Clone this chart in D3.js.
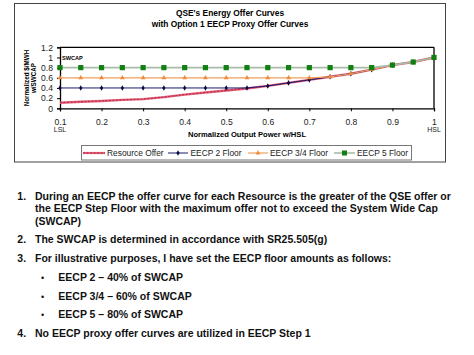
<!DOCTYPE html>
<html><head><meta charset="utf-8">
<script src="https://cdn.jsdelivr.net/npm/d3@7"></script>
<style>
html,body{margin:0;padding:0;background:#fff;}
svg{display:block;font-family:"Liberation Sans",Arial,sans-serif;}
</style></head>
<body>
<svg id="c" width="474" height="355"></svg>
<script>
const outputs = [0.1,0.15,0.2,0.25,0.3,0.35,0.4,0.45,0.5,0.55,0.6,0.65,0.7,0.75,0.8,0.85,0.9,0.95,1.0];
const resourceOffer = [0.11,0.13,0.145,0.165,0.18,0.22,0.27,0.31,0.35,0.39,0.44,0.50,0.56,0.62,0.68,0.76,0.85,0.91,1.0];
const eecp2 = [0.4,0.4,0.4,0.4,0.4,0.4,0.4,0.4,0.4,0.4,0.44,0.50,0.56,0.62,0.68,0.76,0.85,0.91,1.0];
const eecp34 = [0.6,0.6,0.6,0.6,0.6,0.6,0.6,0.6,0.6,0.6,0.6,0.6,0.6,0.62,0.68,0.76,0.85,0.91,1.0];
const eecp5 = [0.8,0.8,0.8,0.8,0.8,0.8,0.8,0.8,0.8,0.8,0.8,0.8,0.8,0.8,0.8,0.8,0.85,0.91,1.0];
const xTicks = [0.1,0.2,0.3,0.4,0.5,0.6,0.7,0.8,0.9,1];
const yTicks = [0,0.2,0.4,0.6,0.8,1,1.2];
const titleLines = ["QSE's Energy Offer Curves","with Option 1 EECP Proxy Offer Curves"];
const yTitleLines = ["Normalized $/MWH","w/SWCAP"];
const xTitle = "Normalized Output Power w/HSL";
const seriesNames = ["Resource Offer","EECP 2 Floor","EECP 3/4 Floor","EECP 5 Floor"];
const notes = [
  {num:"1.", lines:["During an EECP the offer curve for each Resource is the greater of the QSE offer or","the EECP Step Floor with the maximum offer not to exceed the System Wide Cap","(SWCAP)"]},
  {num:"2.", lines:["The SWCAP is determined in accordance with SR25.505(g)"]},
  {num:"3.", lines:["For illustrative purposes, I have set the EECP floor amounts as follows:"]},
  {bullet:true, lines:["EECP 2 – 40% of SWCAP"]},
  {bullet:true, lines:["EECP 3/4 – 60% of SWCAP"]},
  {bullet:true, lines:["EECP 5 – 80% of SWCAP"]},
  {num:"4.", lines:["No EECP proxy offer curves are utilized in EECP Step 1"]}
];

const svg = d3.select("#c");
// outer chart frame
svg.append("rect").attr("x",14.5).attr("y",3.5).attr("width",431).attr("height",158.5)
  .attr("fill","#fff").attr("stroke","#444").attr("stroke-width",1);

const x = d3.scaleLinear().domain([0.1,1]).range([60,434]);
const y = d3.scaleLinear().domain([0,1.2]).range([108.3,47.3]);

// title
titleLines.forEach((t,i)=>{
  svg.append("text").attr("x",230).attr("y",16+i*11).attr("text-anchor","middle")
    .attr("font-size",8.4).attr("font-weight","bold").text(t);
});

// axes
const gx = svg.append("g").attr("transform",`translate(0,${y(0)})`)
  .call(d3.axisBottom(x).tickValues(xTicks).tickSize(3).tickFormat(d=>d===1?"1":d3.format(".1f")(d)));
const gy = svg.append("g").attr("transform",`translate(${x(0.1)},0)`)
  .call(d3.axisLeft(y).tickValues(yTicks).tickSize(3).tickFormat(d=>d===0?"0":(d===1?"1":d3.format(".1f")(d))));
[gx,gy].forEach(g=>{
  g.select(".domain").attr("stroke","#000").attr("stroke-width",1.3);
  g.selectAll(".tick line").attr("stroke","#000");
  g.selectAll(".tick text").attr("font-size",8.6).attr("fill","#222")
    .attr("font-family","Liberation Sans, Arial, sans-serif");
});
gx.selectAll(".tick text").attr("dy","1.3em");
gy.selectAll(".tick text").attr("dx","-1px");
// plot box top and right
svg.append("line").attr("x1",x(0.1)).attr("x2",x(1)).attr("y1",y(1.2)).attr("y2",y(1.2)).attr("stroke","#000").attr("stroke-width",1.3);
svg.append("line").attr("x1",x(1)).attr("x2",x(1)).attr("y1",y(1.2)).attr("y2",y(0)).attr("stroke","#000").attr("stroke-width",1.3);

// LSL / HSL
svg.append("text").attr("x",x(0.1)).attr("y",132).attr("text-anchor","middle").attr("font-size",7).attr("fill","#222").text("LSL");
svg.append("text").attr("x",x(1)).attr("y",132).attr("text-anchor","middle").attr("font-size",7).attr("fill","#222").text("HSL");
// axis titles
svg.append("text").attr("x",247).attr("y",137).attr("text-anchor","middle").attr("font-size",7.6).attr("font-weight","bold").text(xTitle);
yTitleLines.forEach((t,i)=>{
  svg.append("text").attr("transform",`translate(${28.5+i*7},78) rotate(-90)`).attr("text-anchor","middle")
    .attr("font-size",6.3).attr("font-weight","bold").text(t);
});
// SWCAP label
svg.append("text").attr("x",x(0.1)+2).attr("y",y(1)+2.2).attr("font-size",5.6).attr("font-weight","bold").text("SWCAP");

const pts = arr => outputs.map((o,i)=>[o,arr[i]]);
const line = d3.line().x(d=>x(d[0])).y(d=>y(d[1]));

// Resource offer
svg.append("path").datum(pts(resourceOffer)).attr("d",line).attr("fill","none")
  .attr("stroke","#e0607a").attr("stroke-width",2.4);
svg.append("path").datum(pts(resourceOffer)).attr("d",line).attr("fill","none")
  .attr("stroke","#c02040").attr("stroke-width",1).attr("stroke-dasharray","2,1.5");

// EECP 2
svg.append("path").datum(pts(eecp2)).attr("d",line).attr("fill","none").attr("stroke","#1a1a6e").attr("stroke-width",1);
svg.append("g").selectAll("path").data(pts(eecp2)).join("path")
  .attr("transform",d=>`translate(${x(d[0])},${y(d[1])})`)
  .attr("d",d3.symbol(d3.symbolDiamond,9)).attr("fill","#0a0a40");

// EECP 3/4
svg.append("path").datum(pts(eecp34)).attr("d",line).attr("fill","none").attr("stroke","#f0a060").attr("stroke-width",1.2);
svg.append("g").selectAll("path").data(pts(eecp34)).join("path")
  .attr("transform",d=>`translate(${x(d[0])},${y(d[1])})`)
  .attr("d",d3.symbol(d3.symbolTriangle,10)).attr("fill","#f08a3a");

// EECP 5
svg.append("path").datum(pts(eecp5)).attr("d",line).attr("fill","none").attr("stroke","#a8bca8").attr("stroke-width",1.6);
svg.append("g").selectAll("rect").data(pts(eecp5)).join("rect")
  .attr("x",d=>x(d[0])-2.6).attr("y",d=>y(d[1])-2.6).attr("width",5.2).attr("height",5.2)
  .attr("fill","#108010");

// Legend
svg.append("rect").attr("x",81.5).attr("y",145.5).attr("width",330).attr("height",14.5)
  .attr("fill","#fff").attr("stroke","#777").attr("stroke-width",1);
const ly = 153;
const legX = [83, 168, 248, 334];
const legW = [22, 20, 20, 21];
const legTextX = [107, 190.5, 270, 357];
// resource
svg.append("line").attr("x1",legX[0]).attr("x2",legX[0]+legW[0]).attr("y1",ly).attr("y2",ly).attr("stroke","#e0607a").attr("stroke-width",2.2);
svg.append("line").attr("x1",legX[0]).attr("x2",legX[0]+legW[0]).attr("y1",ly).attr("y2",ly).attr("stroke","#c02040").attr("stroke-width",1).attr("stroke-dasharray","2,1.5");
// eecp2
svg.append("line").attr("x1",legX[1]).attr("x2",legX[1]+legW[1]).attr("y1",ly).attr("y2",ly).attr("stroke","#1a1a6e");
svg.append("path").attr("transform",`translate(${legX[1]+legW[1]/2},${ly})`).attr("d",d3.symbol(d3.symbolDiamond,9)).attr("fill","#0a0a40");
// eecp34
svg.append("line").attr("x1",legX[2]).attr("x2",legX[2]+legW[2]).attr("y1",ly).attr("y2",ly).attr("stroke","#f0a060").attr("stroke-width",1.2);
svg.append("path").attr("transform",`translate(${legX[2]+legW[2]/2},${ly})`).attr("d",d3.symbol(d3.symbolTriangle,10)).attr("fill","#f08a3a");
// eecp5
svg.append("line").attr("x1",legX[3]).attr("x2",legX[3]+legW[3]).attr("y1",ly).attr("y2",ly).attr("stroke","#a8bca8").attr("stroke-width",1.6);
svg.append("rect").attr("x",legX[3]+legW[3]/2-2.5).attr("y",ly-2.5).attr("width",5).attr("height",5).attr("fill","#108010");
seriesNames.forEach((n,i)=>{
  svg.append("text").attr("x",legTextX[i]).attr("y",ly+3).attr("font-size",8.4).attr("fill","#222").text(n);
});

// Notes
const baselines = [[199.7,212.3,224.6],[243],[261.8],[280.8],[299.6],[318.4],[337]];
notes.forEach((n,i)=>{
  const g = svg.append("g").attr("font-size",10.5).attr("font-weight","bold").attr("fill","#111");
  if(n.bullet){
    g.append("text").attr("x",42.5).attr("y",baselines[i][0]).attr("text-anchor","middle").attr("font-weight","normal").attr("font-size",9).text("•");
    g.append("text").attr("x",58.3).attr("y",baselines[i][0]).text(n.lines[0]);
  } else {
    g.append("text").attr("x",17.3).attr("y",baselines[i][0]).text(n.num);
    n.lines.forEach((l,j)=>g.append("text").attr("x",35).attr("y",baselines[i][j]).text(l));
  }
});
</script>
</body></html>
